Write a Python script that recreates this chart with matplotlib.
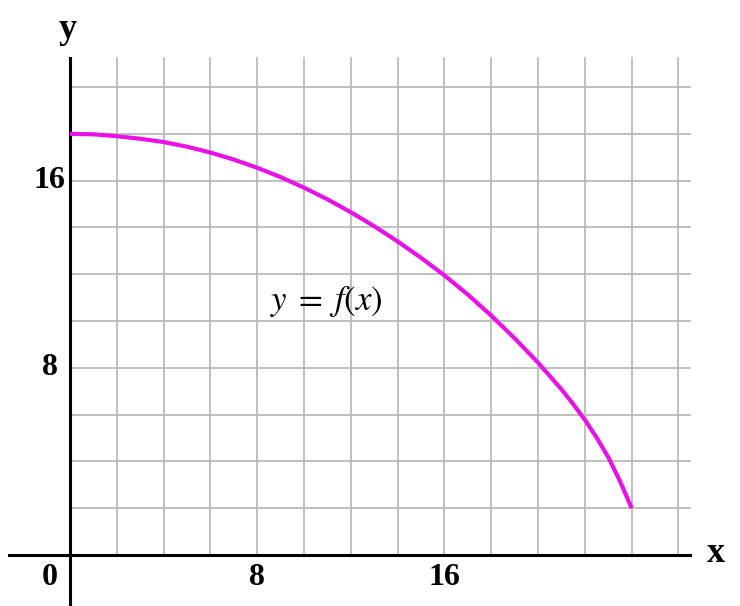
import matplotlib
matplotlib.use("Agg")
import matplotlib.pyplot as plt

# curve
curve_x = [0, 1, 2, 3, 4, 5, 6, 7, 8, 9, 10, 11, 12, 13, 14, 15, 16, 17, 18, 19, 20, 21,
           21.5, 22, 22.5, 23, 23.5, 24]
curve_y = [18.0, 17.98, 17.9, 17.79, 17.65, 17.45, 17.2, 16.9, 16.55, 16.15, 15.7, 15.2, 14.65,
           14.05, 13.4, 12.7, 11.95, 11.13, 10.23, 9.26, 8.22, 7.08,
           6.45, 5.78, 5.02, 4.18, 3.16, 2.0]

grid_x = [2, 4, 6, 8, 10, 12, 14, 16, 18, 20, 22, 24, 26]
grid_y = [2, 4, 6, 8, 10, 12, 14, 16, 18, 20]
x_ticks = [8, 16]
y_ticks = [8, 16]
grid_top = 21.25
grid_right = 26.5

plt.rcParams['mathtext.fontset'] = 'stix'

fig = plt.figure(figsize=(7.4, 6.06), dpi=100)
ax = fig.add_axes([0, 0, 1, 1])
ax.set_xlim(-2.99, 28.63)
ax.set_ylim(-2.18, 23.72)
ax.axis('off')

# grid
for gx in grid_x:
    ax.plot([gx, gx], [0, grid_top], color='#bababa', lw=1.3, zorder=1)
for gy in grid_y:
    ax.plot([0, grid_right], [gy, gy], color='#bababa', lw=1.3, zorder=1)

# axes
ax.plot([-2.6, grid_right], [0, 0], color='black', lw=2.2, zorder=3)
ax.plot([0, 0], [-2.3, grid_top], color='black', lw=2.2, zorder=3)

# curve
ax.plot(curve_x, curve_y, color='#ea10ea', lw=3, solid_capstyle='butt',
        solid_joinstyle='round', zorder=4)

tick_font = dict(family='Liberation Serif', weight='bold', size=23)
for t in x_ticks:
    ax.text(t, -0.95, str(t), ha='center', va='center', **tick_font)
for t in y_ticks:
    ax.text(-0.86, t, str(t), ha='center', va='center', **tick_font)
ax.text(-0.86, -0.95, '0', ha='center', va='center', **tick_font)

ax.text(27.2, 0.05, 'x', ha='left', va='center', family='Liberation Serif', weight='bold', size=26)
ax.text(-0.1, 22.45, 'y', ha='center', va='center', family='Liberation Serif', weight='bold', size=26)

ax.text(10.95, 10.85, r'$y\;=\;f(x)$', ha='center', va='center', size=25)

fig.savefig('out.png', dpi=100)
